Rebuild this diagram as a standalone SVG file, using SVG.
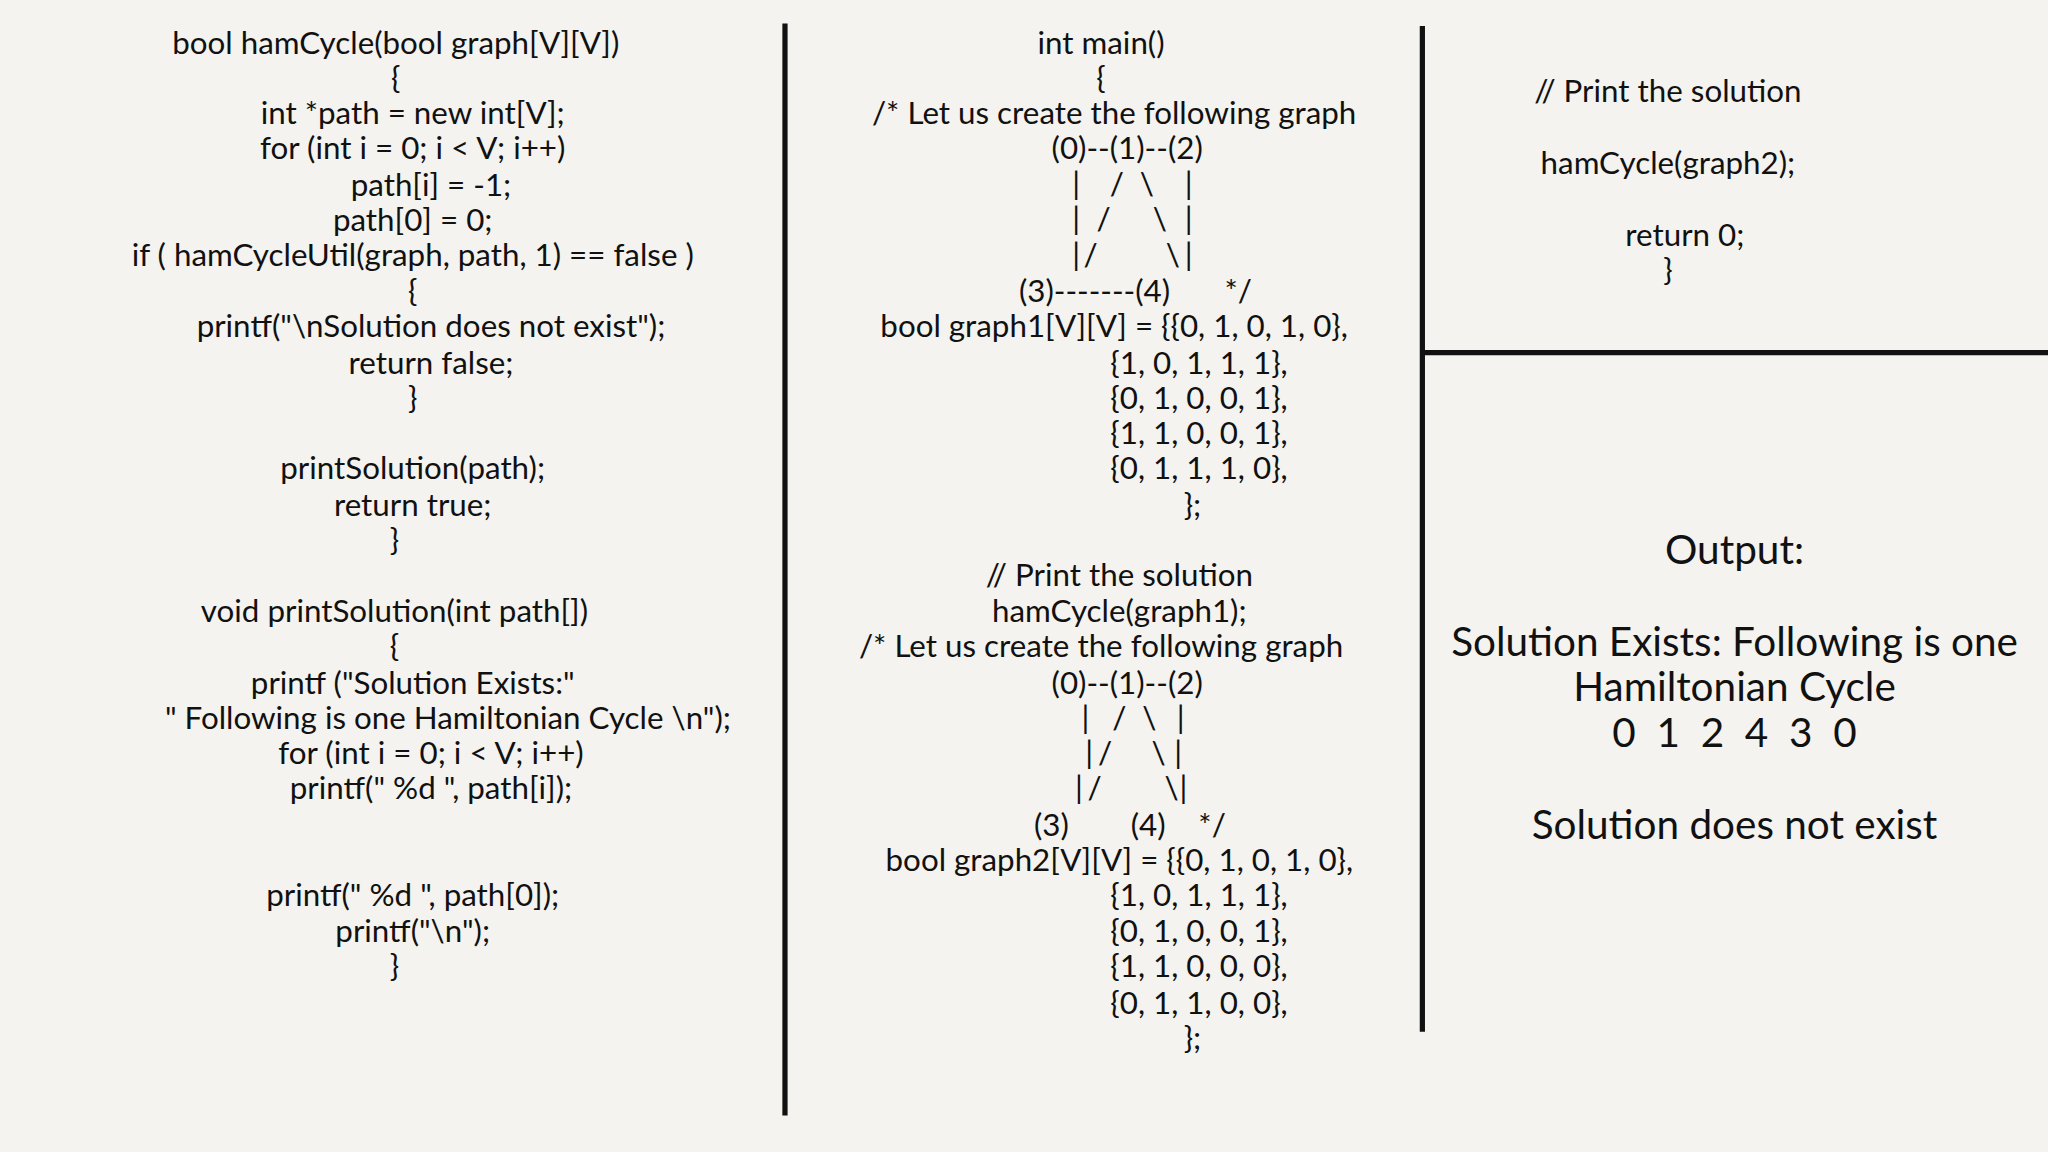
<svg xmlns="http://www.w3.org/2000/svg" width="2048" height="1152" viewBox="0 0 2048 1152">
<style>
text{font-family:Lato,"Open Sans","Liberation Sans",sans-serif;font-size:24px;fill:#111;text-anchor:middle}
.o{font-size:31px}
.l{stroke:#111;stroke-width:4}
</style>
<rect width="2048" height="1152" fill="#f4f3ef"/>
<g transform="scale(1.30612)">
<g id="lines">
<line class="l" x1="601" y1="18" x2="601" y2="854"/>
<line class="l" x1="1089" y1="20" x2="1089" y2="790"/>
<line class="l" x1="1089" y1="270" x2="1568" y2="270"/>
</g>
<g id="col1">
<text x="303" y="41">bool hamCycle(bool graph[V][V])</text>
<text x="303" y="68">{</text>
<text x="316" y="95">int *path = new int[V];</text>
<text x="316" y="122">for (int i = 0; i &lt; V; i++)</text>
<text x="330" y="150">path[i] = -1;</text>
<text x="316" y="177">path[0] = 0;</text>
<text x="316" y="204">if ( hamCycleUtil(graph, path, 1) == false )</text>
<text x="316" y="231">{</text>
<text x="330" y="258">printf("\nSolution does not exist");</text>
<text x="330" y="286">return false;</text>
<text x="316" y="313">}</text>
<text x="316" y="367">printSolution(path);</text>
<text x="316" y="395">return true;</text>
<text x="302" y="422">}</text>
<text x="302" y="476">void printSolution(int path[])</text>
<text x="302" y="503">{</text>
<text x="316" y="531">printf ("Solution Exists:"</text>
<text x="343" y="558">" Following is one Hamiltonian Cycle \n");</text>
<text x="330" y="585">for (int i = 0; i &lt; V; i++)</text>
<text x="330" y="612">printf(" %d ", path[i]);</text>
<text x="316" y="694">printf(" %d ", path[0]);</text>
<text x="316" y="721">printf("\n");</text>
<text x="302" y="748">}</text>
</g>
<g id="col2">
<text x="843" y="41">int main()</text>
<text x="843" y="68">{</text>
<text x="853" y="95">/* Let us create the following graph</text>
<text x="863" y="122">(0)--(1)--(2)</text>
<text x="824" y="149">|</text><text x="855" y="149">/</text><text x="878" y="149">\</text><text x="910" y="149">|</text>
<text x="824" y="176">|</text><text x="845" y="176">/</text><text x="888" y="176">\</text><text x="910" y="176">|</text>
<text x="824" y="204">|</text><text x="835" y="204">/</text><text x="898" y="204">\</text><text x="910" y="204">|</text>
<text x="838" y="231">(3)-------(4)</text><text x="948" y="231">*/</text>
<text x="853" y="258">bool graph1[V][V] = {{0, 1, 0, 1, 0},</text>
<text x="918" y="286">{1, 0, 1, 1, 1},</text>
<text x="918" y="313">{0, 1, 0, 0, 1},</text>
<text x="918" y="340">{1, 1, 0, 0, 1},</text>
<text x="918" y="367">{0, 1, 1, 1, 0},</text>
<text x="913" y="395">};</text>
<text x="857" y="449">// Print the solution</text>
<text x="857" y="476">hamCycle(graph1);</text>
<text x="843" y="503">/* Let us create the following graph</text>
<text x="863" y="531">(0)--(1)--(2)</text>
<text x="831" y="558">|</text><text x="857" y="558">/</text><text x="880" y="558">\</text><text x="904" y="558">|</text>
<text x="834" y="585">|</text><text x="846" y="585">/</text><text x="887" y="585">\</text><text x="902" y="585">|</text>
<text x="826" y="612">|</text><text x="838" y="612">/</text><text x="897" y="612">\</text><text x="906" y="612">|</text>
<text x="805" y="640">(3)</text><text x="879" y="640">(4)</text><text x="928" y="640">*/</text>
<text x="857" y="667">bool graph2[V][V] = {{0, 1, 0, 1, 0},</text>
<text x="918" y="694">{1, 0, 1, 1, 1},</text>
<text x="918" y="721">{0, 1, 0, 0, 1},</text>
<text x="918" y="748">{1, 1, 0, 0, 0},</text>
<text x="918" y="776">{0, 1, 1, 0, 0},</text>
<text x="913" y="803">};</text>
</g>
<g id="col3">
<text x="1277" y="78">// Print the solution</text>
<text x="1277" y="133">hamCycle(graph2);</text>
<text x="1290" y="188">return 0;</text>
<text x="1277" y="215">}</text>
<text class="o" x="1328" y="432">Output:</text>
<text class="o" x="1328" y="502">Solution Exists: Following is one</text>
<text class="o" x="1328" y="537">Hamiltonian Cycle</text>
<text class="o" x="1328" y="572" xml:space="preserve">0  1  2  4  3  0</text>
<text class="o" x="1328" y="642">Solution does not exist</text>
</g>
</g>
</svg>
